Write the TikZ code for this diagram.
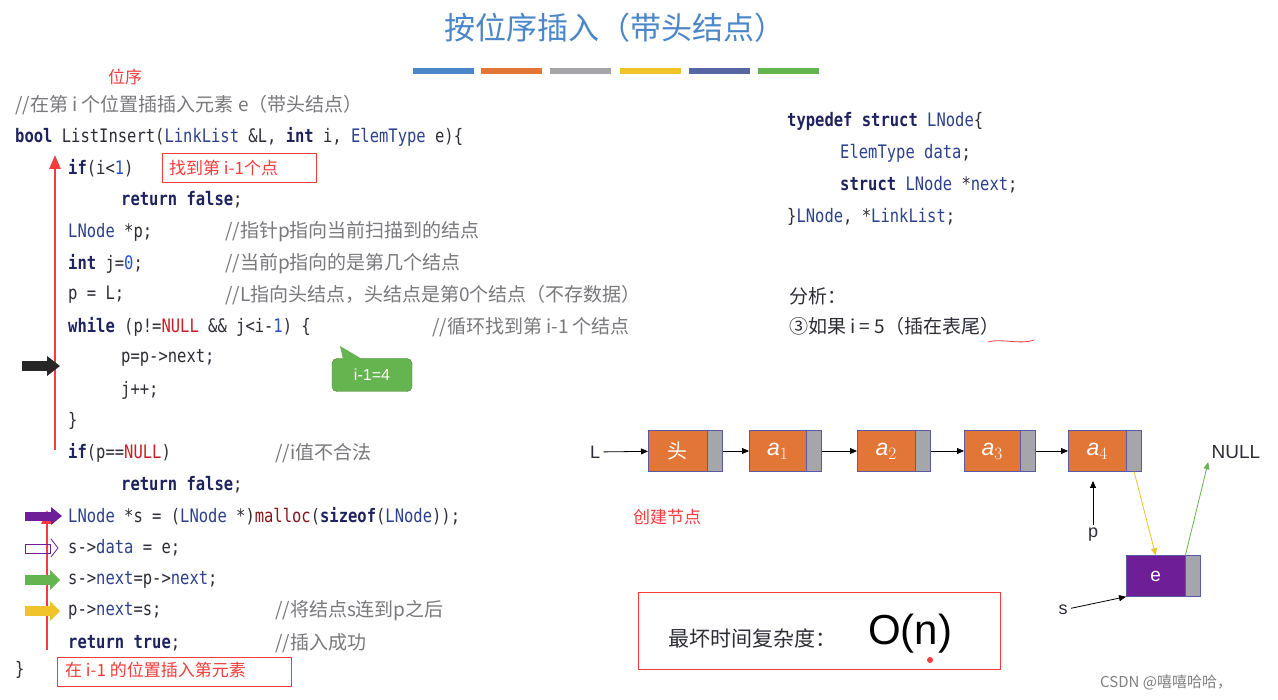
\documentclass[tikz,border=0pt]{standalone}
\usepackage{fontspec}
\setmonofont{DejaVu Sans Mono}
\setmainfont{Liberation Sans}
\newfontfamily\cjk{Noto Sans CJK SC}
\usetikzlibrary{arrows.meta}
\definecolor{kw}{RGB}{30,35,95}
\definecolor{ty}{RGB}{45,65,140}
\definecolor{tx}{RGB}{45,45,55}
\definecolor{cm}{RGB}{120,120,125}
\definecolor{nr}{RGB}{200,30,40}
\definecolor{nb}{RGB}{40,80,200}
\definecolor{rd}{RGB}{245,60,60}
\definecolor{org}{RGB}{226,118,55}
\definecolor{gry}{RGB}{165,165,170}
\definecolor{pur}{RGB}{110,30,150}
\definecolor{ttl}{RGB}{75,135,200}
\definecolor{gr}{RGB}{100,180,80}
\definecolor{yl}{RGB}{240,195,40}
\tikzset{
 code/.style={anchor=west,inner sep=0pt,font=\ttfamily\fontsize{15.5}{16}\selectfont,text=tx,yscale=1.2},
 cmt/.style={anchor=west,inner sep=0pt,font=\cjk\fontsize{19}{20}\selectfont,text=cm},
 ann/.style={anchor=west,inner sep=0pt,font=\cjk\fontsize{17}{18}\selectfont,text=rd},
 body/.style={draw=gray!70!blue,fill=org,minimum height=41pt,inner sep=0pt,text=white,font=\fontsize{23}{23}\selectfont\itshape},
 ptr/.style={draw=gray!70!blue,fill=gry,minimum height=41pt,minimum width=15pt,inner sep=0pt},
 larr/.style={-{Triangle[length=7pt,width=6pt]},thick},
}
\newcommand{\K}[1]{\textcolor{kw}{\textbf{#1}}}
\newcommand{\T}[1]{\textcolor{ty}{#1}}
\begin{document}
\begin{tikzpicture}[x=1pt,y=-1pt]
\useasboundingbox[fill=white] (0,0) rectangle (1278,700);
% title
\node[font=\cjk\fontsize{31}{31}\selectfont,text=ttl] (title) at (615,28) {按位序插入（带头结点）};
\foreach \a/\c in {413/ttl,481/org,550/gry,620/yl,689/ty!80,758/gr}
  \fill[\c] (\a,68) rectangle ++(61,6);
% code
\node[ann] (wx) at (108,77) {位序};
\node[cmt] (c0) at (15,105) {//在第 \textit{i} 个位置插插入元素 \textit{e}（带头结点）};
\node[code] (l1) at (15,137) {\K{bool} ListInsert(\T{LinkList} \&L, \K{int} i, \T{ElemType} e)\{};
\node[code] (l2) at (68,168) {\K{if}(i<\textcolor{nb}{1})};
\node[code] (l3) at (121,200) {\K{return} \K{false};};
\node[code] (l4) at (68,232) {\T{LNode} *p;};
\node[cmt] (c4) at (225,232) {//指针\textit{p}指向当前扫描到的结点};
\node[code] (l5) at (68,264) {\K{int} j=\textcolor{nb}{0};};
\node[cmt] (c5) at (225,264) {//当前\textit{p}指向的是第几个结点};
\node[code] (l6) at (68,295) {p = L;};
\node[cmt] (c6) at (225,295) {//\textit{L}指向头结点，头结点是第\textit{0}个结点（不存数据）};
\node[code] (l7) at (68,327) {\K{while} (p!=\textcolor{nr}{NULL} \&\& j<i-\textcolor{nb}{1}) \{};
\node[cmt] (c7) at (432,327) {//循环找到第 \textit{i-1} 个结点};
\node[code] (l8) at (121,358) {p=p->next;};
\node[code] (l9) at (121,390) {j++;};
\node[code] (l10) at (68,421) {\}};
\node[code] (l11) at (68,453) {\K{if}(p==\textcolor{nr}{NULL})};
\node[cmt] (c11) at (275,453) {//\textit{i}值不合法};
\node[code] (l12) at (121,485) {\K{return} \K{false};};
\node[code] (l13) at (68,516) {\T{LNode} *s = (\T{LNode} *)\textcolor{nr!70!black}{malloc}(\K{sizeof}(\T{LNode}));};
\node[ann] (cj) at (633,517) {创建节点};
\node[code] (l14) at (68,548) {s->\T{data} = e;};
\node[code] (l15) at (68,580) {s->\T{next}=p->\T{next};};
\node[code] (l16) at (68,611) {p->\T{next}=s;};
\node[cmt] (c16) at (275,611) {//将结点\textit{s}连到\textit{p}之后};
\node[code] (l17) at (68,643) {\K{return} \K{true};};
\node[cmt] (c17) at (275,643) {//插入成功};
\node[code] (l18) at (15,670) {\}};
% annotations
\draw[rd,thick] (162,153) rectangle (316,182);
\node[ann] (b1) at (169,168) {找到第 i-1个点};
\draw[rd,thick] (57,657) rectangle (291,686);
\node[ann] (b2) at (65,670) {在 i-1 的位置插入第元素};
\draw[rd,line width=2.5pt,-{Triangle[length=14pt,width=11pt]}] (55,450) -- (55,155);
\draw[rd,line width=2.5pt,-{Triangle[length=14pt,width=11pt]}] (47,650) -- (47,510);
% callout
\node[fill=gr,draw=gr!70!black,rounded corners=5pt,text=white,font=\fontsize{16}{16}\selectfont,minimum width=80pt,minimum height=33pt] (co) at (372,375) {i-1=4};
\fill[gr] (343,359) -- (340,346) -- (362,359) -- cycle;
% markers
\fill[gray!30!black] (22,361) rectangle (48,371);
\fill[gray!30!black] (47,356) -- (60,366) -- (47,376) -- cycle;
\fill[pur] (25,512) rectangle (52,521); \fill[pur] (51,507) -- (62,516) -- (51,525) -- cycle;
\draw[pur,thick] (25,544) rectangle (50,553); \draw[pur,thick] (51,539) -- (58,548) -- (51,557);
\fill[gr] (25,575) rectangle (50,585); \fill[gr] (50,570) -- (60,580) -- (50,590) -- cycle;
\fill[yl] (25,606) rectangle (50,616); \fill[yl] (50,601) -- (60,611) -- (50,621) -- cycle;
% struct
\node[code] (s1) at (787,121) {\K{typedef} \K{struct} \T{LNode}\{};
\node[code] (s2) at (840,153) {\T{ElemType} \T{data};};
\node[code] (s3) at (840,185) {\K{struct} \T{LNode} *\T{next};};
\node[code] (s4) at (787,217) {\}\T{LNode}, *\T{LinkList};};
\node[anchor=west,inner sep=0pt,font=\cjk\fontsize{19}{19}\selectfont,text=tx] (fx) at (789,296) {分析：};
\node[anchor=west,inner sep=0pt,font=\cjk\fontsize{19}{19}\selectfont,text=tx] (rg) at (789,326) {③如果 i = 5（插在表尾）};
\draw[rd,thick] (988,342) .. controls (1000,338) and (1020,345) .. (1034,340);
% list
\node[body,minimum width=59pt,anchor=west,font=\cjk\fontsize{20}{20}\selectfont] (h) at (648,451) {头};
\node[ptr,anchor=west] (hp) at (h.east) {};
\node[body,minimum width=57pt,anchor=west] (a1) at (749,451) {a$_1$};
\node[ptr,anchor=west] (a1p) at (a1.east) {};
\node[body,minimum width=58pt,anchor=west] (a2) at (857,451) {a$_2$};
\node[ptr,anchor=west] (a2p) at (a2.east) {};
\node[body,minimum width=56pt,anchor=west] (a3) at (964,451) {a$_3$};
\node[ptr,anchor=west] (a3p) at (a3.east) {};
\node[body,minimum width=58pt,anchor=west] (a4) at (1068,451) {a$_4$};
\node[ptr,anchor=west] (a4p) at (a4.east) {};
\node[font=\fontsize{18}{18}\selectfont,text=tx] (L) at (595,452) {L};
\node[font=\fontsize{19}{19}\selectfont,text=tx] (null) at (1236,452) {NULL};
\node[font=\fontsize{18}{18}\selectfont,text=tx] (p) at (1093,535) {p};
\node[body,fill=pur,minimum width=59pt,anchor=west,font=\fontsize{19}{19}\selectfont] (e) at (1126,576) {e};
\node[ptr,anchor=west] (ep) at (e.east) {};
\node[font=\fontsize{18}{18}\selectfont,text=tx] (s) at (1063,610) {s};
\draw[larr] (L) -- (h);
\draw[larr] (hp) -- (a1);
\draw[larr] (a1p) -- (a2);
\draw[larr] (a2p) -- (a3);
\draw[larr] (a3p) -- (a4);
\draw[larr] (p) -- (1093,481);
\draw[larr] (s) -- (e.south west);
\draw[yl,larr] (a4p.south) -- (e.north);
\draw[gr,larr] (ep.north west) -- (null.south west);
% complexity
\node[draw=rd,thick,minimum width=362pt,minimum height=77pt] (cx) at (819,631) {};
\node[anchor=west,inner sep=0pt,font=\cjk\fontsize{21}{21}\selectfont,text=tx] (ct) at (668,638) {最坏时间复杂度：};
\node[anchor=west,inner sep=0pt,font=\fontsize{42}{42}\selectfont,text=black] (on) at (868,634) {O(n)};
\fill[rd] (930,660) circle (3pt);
\node[anchor=west,inner sep=0pt,font=\cjk\fontsize{15}{15}\selectfont,text=gray] (wm) at (1100,682) {CSDN @嘻嘻哈哈，};
\end{tikzpicture}
\end{document}
